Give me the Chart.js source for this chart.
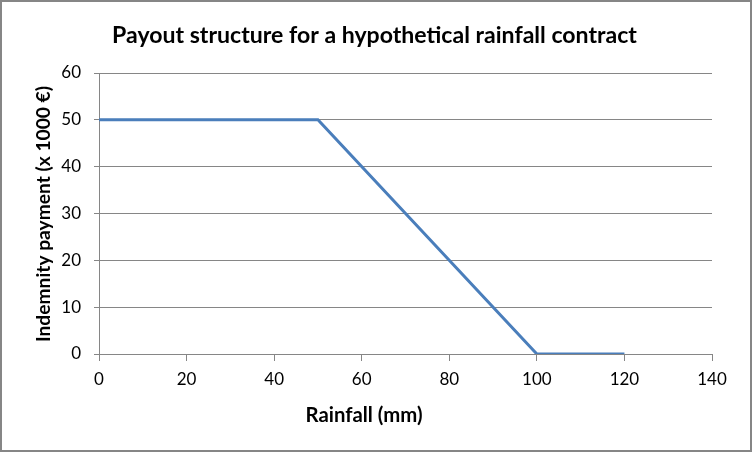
<!DOCTYPE html>
<html><head><meta charset="utf-8">
<script src="https://cdn.jsdelivr.net/npm/chart.js@4"></script>
<style>html,body{margin:0;padding:0;background:#fff}#w{width:752px;height:452px;position:relative}</style>
</head><body><div id="w"><canvas id="c" width="752" height="452"></canvas></div>
<script>
const rainfall = [0, 50, 100, 120];
const payout = [50, 50, 0, 0];
const title = 'Payout structure for a hypothetical rainfall contract';
const xTitle = 'Rainfall (mm)';
const yTitle = 'Indemnity payment (x 1000 €)';
const FONT = 'Lato, "Open Sans", sans-serif';

function fitFont(ctx, text, targetW) {
  ctx.font = 'bold 20px ' + FONT;
  const w = ctx.measureText(text).width;
  return 'bold ' + (20 * targetW / w).toFixed(2) + 'px ' + FONT;
}

const decor = {
  id: 'decor',
  afterDraw(chart) {
    const ctx = chart.ctx;
    ctx.save();
    ctx.fillStyle = '#000';
    ctx.textAlign = 'center';
    ctx.textBaseline = 'alphabetic';
    ctx.font = fitFont(ctx, title, 525);
    ctx.fillText(title, 374.5, 43);
    ctx.font = fitFont(ctx, xTitle, 117);
    ctx.fillText(xTitle, 364, 422);
    ctx.save();
    ctx.translate(50, 214);
    ctx.rotate(-Math.PI / 2);
    ctx.font = fitFont(ctx, yTitle, 256);
    ctx.fillText(yTitle, 0, 0);
    ctx.restore();
    ctx.strokeStyle = '#868686';
    ctx.lineWidth = 2;
    ctx.strokeRect(1, 1, chart.width - 2, chart.height - 2);
    ctx.restore();
  }
};

new Chart(document.getElementById('c'), {
  type: 'line',
  data: {
    datasets: [{
      data: rainfall.map((x, i) => ({x: x, y: payout[i]})),
      borderColor: '#4a7ebb',
      borderWidth: 3,
      pointRadius: 0,
      fill: false,
      tension: 0
    }]
  },
  options: {
    responsive: false,
    animation: false,
    devicePixelRatio: 1,
    layout: {padding: {top: 73, left: 0, right: 40, bottom: 0}},
    plugins: {
      legend: {display: false},
      tooltip: {enabled: false},
      title: {display: false}
    },
    scales: {
      x: {
        type: 'linear', min: 0, max: 140,
        ticks: {stepSize: 20, color: '#000', font: {family: FONT, size: 17}, padding: 8},
        grid: {display: true, drawOnChartArea: false, color: '#868686', tickLength: 7},
        border: {display: true, color: '#868686', width: 1},
        afterFit(s) { s.height = 98; }
      },
      y: {
        min: 0, max: 60,
        ticks: {stepSize: 10, color: '#000', font: {family: FONT, size: 17}, padding: 13},
        grid: {color: '#868686', tickLength: 5},
        border: {display: true, color: '#868686', width: 1},
        afterFit(s) { s.width = 99; }
      }
    }
  },
  plugins: [decor]
});
</script></body></html>
